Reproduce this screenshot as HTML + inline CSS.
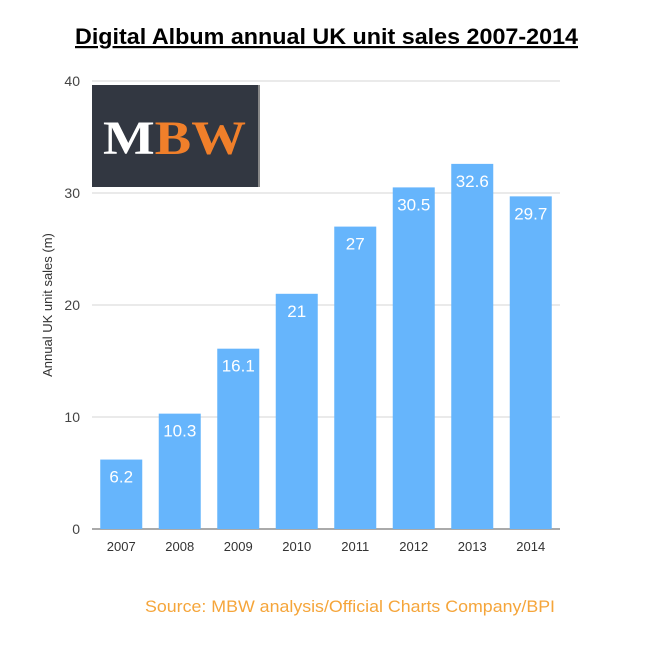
<!DOCTYPE html>
<html><head><meta charset="utf-8"><style>
body{margin:0;background:#fff;width:648px;height:648px;overflow:hidden;font-family:"Liberation Sans",sans-serif}
</style></head><body>
<svg width="648" height="648">
<text x="75" y="44" textLength="503" lengthAdjust="spacingAndGlyphs" font-size="22" font-weight="bold" fill="#000" text-decoration="underline">Digital Album annual UK unit sales 2007-2014</text>
<g id="grid"></g>
<rect x="92" y="85" width="167" height="102" fill="#323741"/>
<rect x="258" y="85" width="2" height="102" fill="#888"/>
<text x="103" y="154" textLength="143" lengthAdjust="spacingAndGlyphs" font-family="Liberation Serif,serif" font-weight="bold" font-size="48"><tspan fill="#fff">M</tspan><tspan fill="#f07f2a">BW</tspan></text>
<g id="bars"></g>
<text transform="translate(52,305) rotate(-90)" text-anchor="middle" font-size="13" fill="#333">Annual UK unit sales (m)</text>
<text x="145" y="612" textLength="410" lengthAdjust="spacingAndGlyphs" font-size="17" fill="#f5a53a">Source: MBW analysis/Official Charts Company/BPI</text>
</svg>
<script>
const categories=["2007","2008","2009","2010","2011","2012","2013","2014"];
const values=[6.2,10.3,16.1,21,27,30.5,32.6,29.7];
const valueLabels=["6.2","10.3","16.1","21","27","30.5","32.6","29.7"];
const yTicks=[0,10,20,30,40];
const NS="http://www.w3.org/2000/svg";
const x0=92,x1=560,yb=529,yt=81,ymax=40;
const y=v=>yb-(v/ymax)*(yb-yt);
const cw=(x1-x0)/categories.length;
const xc=i=>x0+cw*(i+0.5);
function mk(t,a,p){const e=document.createElementNS(NS,t);for(const k in a)e.setAttribute(k,a[k]);p.appendChild(e);return e;}
const g=document.getElementById('grid'),b=document.getElementById('bars');
yTicks.forEach(t=>{
 const l=mk('line',{x1:x0,x2:x1,y1:y(t),y2:y(t),stroke:t===0?'#555':'#d4d4d4','stroke-width':1},g);
 
 
 const tx=mk('text',{x:80,y:y(t)+5,'text-anchor':'end','font-size':14,fill:'#444'},g);
 tx.textContent=t;
 
 
});
categories.forEach((c,i)=>{
 const r=mk('rect',{x:xc(i)-21,y:y(values[i]),width:42,height:yb-y(values[i]),fill:'#66b5fc'},b);
 
 
 const v=mk('text',{x:xc(i),y:y(values[i])+23,'text-anchor':'middle','font-size':17,fill:'#fff'},b);
 v.textContent=valueLabels[i];
 
 
 const xl=mk('text',{x:xc(i),y:551,'text-anchor':'middle','font-size':13,fill:'#333'},b);
 xl.textContent=c;
 
 
});
</script>
</body></html>
